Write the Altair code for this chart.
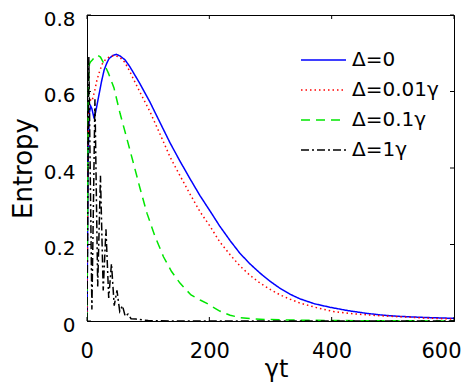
import altair as alt
import pandas as pd

labels = ["Δ=0", "Δ=0.01γ", "Δ=0.1γ", "Δ=1γ"]
colors = ["#0000ff", "#ff0000", "#00e600", "#000000"]
dashes = [[1, 0], [1.5, 3], [9, 6], [8, 3, 2, 3]]

t_blue = [0, 1, 2, 3, 4, 6, 8, 11, 14, 17, 20, 24, 28, 32, 36, 42, 48, 54, 62, 70, 86, 103,
          119, 136, 152, 168, 185, 201, 217, 234, 250, 266, 283, 300, 316, 332, 348, 372, 397,
          427, 457, 485, 512, 556, 600]
s_blue = [0, 0.25, 0.42, 0.5, 0.545, 0.562, 0.555, 0.534, 0.545, 0.57, 0.595, 0.628, 0.656,
          0.673, 0.686, 0.694, 0.697, 0.693, 0.683, 0.665, 0.622, 0.572, 0.52, 0.465, 0.418,
          0.373, 0.327, 0.288, 0.248, 0.21, 0.177, 0.15, 0.125, 0.103, 0.085, 0.07, 0.058,
          0.045, 0.036, 0.027, 0.02, 0.015, 0.012, 0.009, 0.007]

t_red = [0, 1, 2, 3, 4, 6, 8, 10, 13, 16, 20, 25, 30, 36, 42, 48, 54, 62, 70, 86, 103, 119,
         136, 152, 168, 185, 201, 217, 234, 250, 266, 283, 300, 316, 332, 348, 375, 402, 435,
         467, 500, 550, 600]
s_red = [0, 0.3, 0.48, 0.55, 0.572, 0.578, 0.575, 0.585, 0.605, 0.628, 0.65, 0.672, 0.683,
         0.69, 0.693, 0.693, 0.689, 0.676, 0.652, 0.6, 0.547, 0.49, 0.428, 0.38, 0.333, 0.285,
         0.248, 0.207, 0.173, 0.144, 0.12, 0.099, 0.082, 0.068, 0.057, 0.047, 0.035, 0.025,
         0.019, 0.015, 0.012, 0.008, 0.005]

t_green = [0, 1, 2, 3, 4, 6, 9, 12, 17, 22, 28, 35, 44, 54, 65, 76, 87, 98, 111, 125, 138,
           152, 170, 185, 196, 217, 234, 250, 270, 290, 320, 360, 420, 500, 600]
s_green = [0, 0.3, 0.55, 0.65, 0.672, 0.678, 0.683, 0.689, 0.695, 0.69, 0.672, 0.648, 0.61,
           0.543, 0.478, 0.412, 0.345, 0.282, 0.222, 0.168, 0.13, 0.099, 0.068, 0.055, 0.046,
           0.026, 0.015, 0.009, 0.006, 0.004, 0.003, 0.002, 0.001, 0.0005, 0.0002]

t_black = [0, 3, 8, 13, 17.5, 22, 26.5, 31, 35.5, 40, 44.5, 49, 53.5, 58, 62.5, 67, 72, 80,
           90, 100, 150, 600]
s_black = [0, 0.69, 0.03, 0.58, 0.09, 0.38, 0.08, 0.24, 0.06, 0.15, 0.04, 0.08, 0.025, 0.04,
           0.012, 0.018, 0.006, 0.005, 0.003, 0.001, 0, 0]

x_ticks = [0, 200, 400, 600]
y_ticks = [0, 0.2, 0.4, 0.6, 0.8]

rows = []
for lab, ts, ss in zip(labels, [t_blue, t_red, t_green, t_black], [s_blue, s_red, s_green, s_black]):
    for i, (t, s) in enumerate(zip(ts, ss)):
        rows.append({"t": t, "s": s, "series": lab, "order": i})
df = pd.DataFrame(rows)

W, H = 367, 306
FONT = "DejaVu Sans"

xscale = alt.Scale(domain=[0, 600], nice=False, zero=False)
yscale = alt.Scale(domain=[0, 0.8], nice=False)

xaxis = alt.Axis(title="γt", values=x_ticks, format="d", ticks=False, grid=False,
                 labelPadding=19, labelFlush=True, labelFlushOffset=7,
                 titleFontSize=24, labelFontSize=21,
                 titleX=189, titleY=55, titleBaseline="alphabetic")
yaxis = alt.Axis(title="Entropy", values=y_ticks, format="~g", ticks=False, grid=False,
                 labelPadding=12, titleFontSize=26, titlePadding=7, labelFontSize=20,
                 labelOffset=4, labelFlush=False)

leg = dict(title=None, orient="none", legendX=213, legendY=34, symbolType="stroke",
           symbolSize=2025, symbolStrokeWidth=1.6, labelFontSize=20, labelFont=FONT,
           clipHeight=22, rowPadding=8, labelOffset=5)

lines = alt.Chart(df).mark_line(strokeWidth=1.5, clip=True).encode(
    x=alt.X("t:Q", scale=xscale, axis=xaxis),
    y=alt.Y("s:Q", scale=yscale, axis=yaxis),
    color=alt.Color("series:N", sort=labels,
                    scale=alt.Scale(domain=labels, range=colors),
                    legend=alt.Legend(**leg)),
    strokeDash=alt.StrokeDash("series:N", sort=labels,
                              scale=alt.Scale(domain=labels, range=dashes),
                              legend=alt.Legend(**leg)),
    order="order:Q",
)

xt = pd.DataFrame({"t": x_ticks})
yt = pd.DataFrame({"s": y_ticks})

xb = alt.Chart(xt).mark_rule(color="black", strokeWidth=1).encode(
    x=alt.X("t:Q", scale=xscale, axis=xaxis), y=alt.value(H), y2=alt.value(H - 4))
xtop = alt.Chart(xt).mark_rule(color="black", strokeWidth=1).encode(
    x=alt.X("t:Q", scale=xscale, axis=xaxis), y=alt.value(0), y2=alt.value(4))
yl = alt.Chart(yt).mark_rule(color="black", strokeWidth=1).encode(
    y=alt.Y("s:Q", scale=yscale, axis=yaxis), x=alt.value(0), x2=alt.value(4))
yr = alt.Chart(yt).mark_rule(color="black", strokeWidth=1).encode(
    y=alt.Y("s:Q", scale=yscale, axis=yaxis), x=alt.value(W), x2=alt.value(W - 4))

chart = alt.layer(lines, xb, xtop, yl, yr).properties(
    width=W, height=H,
    autosize=alt.AutoSizeParams(type="none"),
    padding={"left": 79, "top": 7, "right": 12, "bottom": 62},
).configure_view(stroke="black", strokeWidth=1).configure_axis(
    domainColor="black", labelColor="black", titleColor="black",
    labelFont=FONT, titleFont=FONT, titleFontWeight="normal",
).configure_legend(labelColor="black")

chart.save("out.html", embed_options={"renderer": "svg", "actions": False})
